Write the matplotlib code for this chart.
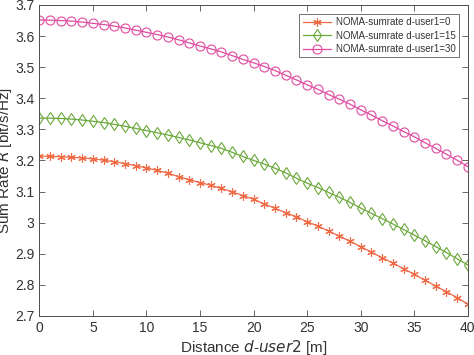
import numpy as np
import matplotlib
matplotlib.use('Agg')
import matplotlib.pyplot as plt

# ---------------------------------------------------------------------------
# Data
# ---------------------------------------------------------------------------
distance = list(range(0, 41))

sumrate_d0 = [3.214, 3.213, 3.212, 3.210, 3.208, 3.205, 3.201, 3.196, 3.190, 3.183,
              3.176, 3.168, 3.159, 3.148, 3.138, 3.129, 3.120, 3.110, 3.099, 3.087,
              3.075, 3.060, 3.046, 3.032, 3.019, 3.003, 2.989, 2.973, 2.957, 2.940,
              2.923, 2.905, 2.887, 2.870, 2.852, 2.834, 2.815, 2.796, 2.778, 2.759,
              2.738]

sumrate_d15 = [3.336, 3.336, 3.335, 3.333, 3.330, 3.326, 3.322, 3.316, 3.310, 3.303,
               3.296, 3.289, 3.282, 3.274, 3.266, 3.257, 3.248, 3.239, 3.226, 3.213,
               3.200, 3.188, 3.175, 3.160, 3.143, 3.127, 3.113, 3.097, 3.082, 3.065,
               3.047, 3.030, 3.013, 2.996, 2.978, 2.960, 2.942, 2.923, 2.904, 2.884,
               2.864]

sumrate_d30 = [3.652, 3.651, 3.650, 3.648, 3.645, 3.641, 3.637, 3.632, 3.626, 3.619,
               3.612, 3.605, 3.597, 3.588, 3.578, 3.568, 3.559, 3.549, 3.537, 3.525,
               3.514, 3.502, 3.489, 3.474, 3.459, 3.443, 3.429, 3.412, 3.397, 3.381,
               3.363, 3.346, 3.328, 3.311, 3.293, 3.276, 3.257, 3.239, 3.220, 3.201,
               3.180]

labels = ['NOMA-sumrate d-user1=0', 'NOMA-sumrate d-user1=15', 'NOMA-sumrate d-user1=30']

COLOR_D0 = '#ef6a45'
COLOR_D15 = '#6aa83a'
COLOR_D30 = '#e04ba0'
AXIS_GRAY = '#4d4d4d'
TEXT_GRAY = '#333333'

plt.rcParams['font.family'] = ['Liberation Sans', 'DejaVu Sans']

fig = plt.figure(figsize=(4.74, 3.55), dpi=100)
ax = fig.add_axes([0.083, 0.110, 0.904, 0.876])

# MATLAB-like '*' marker: six-spoke asterisk
ax.plot(distance, sumrate_d0, '-', marker=(6, 2, 0), color=COLOR_D0, linewidth=0.9,
        markersize=6, markeredgewidth=0.8, label=labels[0])
ax.plot(distance, sumrate_d15, '-', marker='d', color=COLOR_D15, linewidth=0.9,
        markersize=6.5, markerfacecolor='none', markeredgewidth=0.8, label=labels[1])
ax.plot(distance, sumrate_d30, '-', marker='o', color=COLOR_D30, linewidth=0.9,
        markersize=6.5, markerfacecolor='none', markeredgewidth=0.8, label=labels[2])

ax.set_xlim(0, 40)
ax.set_ylim(2.7, 3.7)
ax.set_xticks(np.arange(0, 41, 5))
ax.set_yticks(np.arange(2.7, 3.71, 0.1))
ax.set_yticklabels(['2.7', '2.8', '2.9', '3', '3.1', '3.2', '3.3', '3.4', '3.5', '3.6', '3.7'])

ax.tick_params(direction='in', length=4, width=0.6, colors=AXIS_GRAY,
               labelsize=10, top=True, right=True, labelcolor=TEXT_GRAY)
for spine in ax.spines.values():
    spine.set_color(AXIS_GRAY)
    spine.set_linewidth(0.7)

ax.set_xlabel('Distance $\\mathit{d}$-$\\mathit{user2}$ [m]', fontsize=11, color=TEXT_GRAY,
              labelpad=2)
ax.set_ylabel('Sum Rate $\\mathit{R}$ [bit/s/Hz]', fontsize=11, color=TEXT_GRAY, labelpad=1)

leg = ax.legend(loc='upper right', fontsize=7, frameon=True, fancybox=False,
                edgecolor=AXIS_GRAY, borderpad=0.35, handlelength=2.9, labelspacing=0.35,
                handletextpad=0.5, borderaxespad=0.9)
leg.get_frame().set_linewidth(0.7)
for t in leg.get_texts():
    t.set_color(TEXT_GRAY)

plt.savefig('out.png', dpi=100)
plt.close()
